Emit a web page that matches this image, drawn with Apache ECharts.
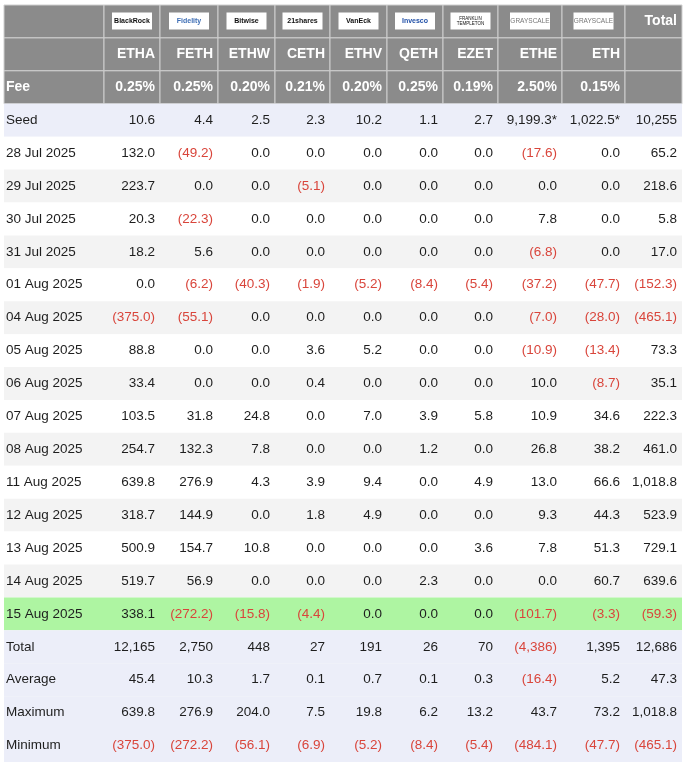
<!DOCTYPE html>
<html><head><meta charset="utf-8">
<script src="https://cdn.jsdelivr.net/npm/echarts@6/dist/echarts.min.js"></script>
<style>html,body{margin:0;background:#fff}#c{width:689px;height:768px}</style>
</head><body><div id="c"></div>
<script>
const issuers = ['BlackRock', 'Fidelity', 'Bitwise', '21shares', 'VanEck', 'Invesco', 'FRANKLIN TEMPLETON', 'GRAYSCALE', 'GRAYSCALE'];
const tickers = ['ETHA', 'FETH', 'ETHW', 'CETH', 'ETHV', 'QETH', 'EZET', 'ETHE', 'ETH'];
const fees = ['0.25%', '0.25%', '0.20%', '0.21%', '0.20%', '0.25%', '0.19%', '2.50%', '0.15%'];
const rowLabels = ['Seed', '28 Jul 2025', '29 Jul 2025', '30 Jul 2025', '31 Jul 2025', '01 Aug 2025',
  '04 Aug 2025', '05 Aug 2025', '06 Aug 2025', '07 Aug 2025', '08 Aug 2025', '11 Aug 2025',
  '12 Aug 2025', '13 Aug 2025', '14 Aug 2025', '15 Aug 2025', 'Total', 'Average', 'Maximum', 'Minimum'];
// ETHA, FETH, ETHW, CETH, ETHV, QETH, EZET, ETHE, ETH, Total
const values = [
  [10.6, 4.4, 2.5, 2.3, 10.2, 1.1, 2.7, 9199.3, 1022.5, 10255],
  [132.0, -49.2, 0, 0, 0, 0, 0, -17.6, 0, 65.2],
  [223.7, 0, 0, -5.1, 0, 0, 0, 0, 0, 218.6],
  [20.3, -22.3, 0, 0, 0, 0, 0, 7.8, 0, 5.8],
  [18.2, 5.6, 0, 0, 0, 0, 0, -6.8, 0, 17.0],
  [0, -6.2, -40.3, -1.9, -5.2, -8.4, -5.4, -37.2, -47.7, -152.3],
  [-375.0, -55.1, 0, 0, 0, 0, 0, -7.0, -28.0, -465.1],
  [88.8, 0, 0, 3.6, 5.2, 0, 0, -10.9, -13.4, 73.3],
  [33.4, 0, 0, 0.4, 0, 0, 0, 10.0, -8.7, 35.1],
  [103.5, 31.8, 24.8, 0, 7.0, 3.9, 5.8, 10.9, 34.6, 222.3],
  [254.7, 132.3, 7.8, 0, 0, 1.2, 0, 26.8, 38.2, 461.0],
  [639.8, 276.9, 4.3, 3.9, 9.4, 0, 4.9, 13.0, 66.6, 1018.8],
  [318.7, 144.9, 0, 1.8, 4.9, 0, 0, 9.3, 44.3, 523.9],
  [500.9, 154.7, 10.8, 0, 0, 0, 3.6, 7.8, 51.3, 729.1],
  [519.7, 56.9, 0, 0, 0, 2.3, 0, 0, 60.7, 639.6],
  [338.1, -272.2, -15.8, -4.4, 0, 0, 0, -101.7, -3.3, -59.3],
  [12165, 2750, 448, 27, 191, 26, 70, -4386, 1395, 12686],
  [45.4, 10.3, 1.7, 0.1, 0.7, 0.1, 0.3, -16.4, 5.2, 47.3],
  [639.8, 276.9, 204.0, 7.5, 19.8, 6.2, 13.2, 43.7, 73.2, 1018.8],
  [-375.0, -272.2, -56.1, -6.9, -5.2, -8.4, -5.4, -484.1, -47.7, -465.1]
];
const seedNotes = ['', '', '', '', '', '', '', '*', '*', ''];

// layout: column edges
const colEdges = [0, 100, 156, 214, 271, 326, 383, 439, 494, 558, 621, 678];
const yCats = ['h0', 'h1', 'h2'].concat(rowLabels);

function fmt(v, dec) {
  const s = Math.abs(v).toLocaleString('en-US', {minimumFractionDigits: dec, maximumFractionDigits: dec});
  return v < 0 ? '(' + s + ')' : s;
}

const cells = [];
for (let r = 0; r < yCats.length; r++) for (let c = 0; c < 11; c++) cells.push([c, r]);

const HEAD = '#8b8b8b', RED = '#d9453b', INK = '#1e1e1e';
const FONT = '"Helvetica Neue", "Liberation Sans", Arial, sans-serif';

function rowBg(r) {
  if (r < 3) return HEAD;
  const name = yCats[r];
  if (name === 'Seed' || r >= 19) return '#eceef9';
  if (name === '15 Aug 2025') return '#aef5a2';
  return (r % 2 === 0) ? '#ffffff' : '#f3f3f3';
}

function renderItem(params, api) {
  const c = api.value(0), r = api.value(1);
  const p0 = api.coord([colEdges[c], r]);
  const p1 = api.coord([colEdges[c + 1], r]);
  const h = api.size([0, 1])[1];
  const x = p0[0], w = p1[0] - p0[0], y = p0[1] - h / 2, cy = p0[1];
  const children = [{
    type: 'rect', shape: {x: x, y: y, width: w, height: h},
    style: {fill: rowBg(r), stroke: r < 3 ? '#cfcfcf' : null, lineWidth: 1}
  }];
  let text = '', color = INK, bold = false, align = 'right';
  if (r < 3) {
    color = '#fff'; bold = true;
    if (r === 0) {
      if (c === 10) text = 'Total';
      else if (c > 0) {
        const name = issuers[c - 1];
        const long = name.length > 10;
        children.push({type: 'rect', shape: {x: x + w / 2 - 20, y: cy - 9, width: 40, height: 17},
          style: {fill: '#fff'}});
        children.push({type: 'text', style: {text: long ? 'FRANKLIN\nTEMPLETON' : name,
          x: x + w / 2, y: cy, align: 'center', verticalAlign: 'middle', lineHeight: 5,
          font: (long ? '4.5px ' : (name === 'GRAYSCALE' ? '6.5px ' : 'bold 7px ')) + FONT,
          fill: name === 'Fidelity' ? '#3f6fb5' : (name === 'Invesco' ? '#2251a8' : (name === 'GRAYSCALE' ? '#777' : '#111'))}});
      }
    } else if (r === 1) {
      if (c > 0 && c < 10) text = tickers[c - 1];
    } else {
      if (c === 0) { text = 'Fee'; align = 'left'; }
      else if (c < 10) text = fees[c - 1];
    }
  } else {
    const ri = r - 3;
    if (c === 0) { text = rowLabels[ri]; align = 'left'; }
    else {
      const v = values[ri][c - 1];
      const dec = (rowLabels[ri] === 'Total' || (ri === 0 && c === 10)) ? 0 : 1;
      text = fmt(v, dec) + (ri === 0 ? seedNotes[c - 1] : '');
      if (v < 0) color = RED;
    }
  }
  if (text) {
    children.push({type: 'text', style: {
      text: text, x: align === 'left' ? x + 2 : x + w - 5, y: cy,
      align: align, verticalAlign: 'middle', fill: color,
      font: (bold ? 'bold 14px ' : '13.5px ') + FONT
    }});
  }
  return {type: 'group', children: children};
}

const chart = echarts.init(document.getElementById('c'), null, {renderer: 'canvas'});
chart.setOption({
  animation: false,
  grid: {left: 4, right: 7, top: 5, bottom: 6},
  xAxis: {type: 'value', min: 0, max: 678, show: false},
  yAxis: {type: 'category', data: yCats, inverse: true, show: false},
  series: [{type: 'custom', renderItem: renderItem, data: cells, encode: {x: 0, y: 1}}]
});
</script></body></html>
